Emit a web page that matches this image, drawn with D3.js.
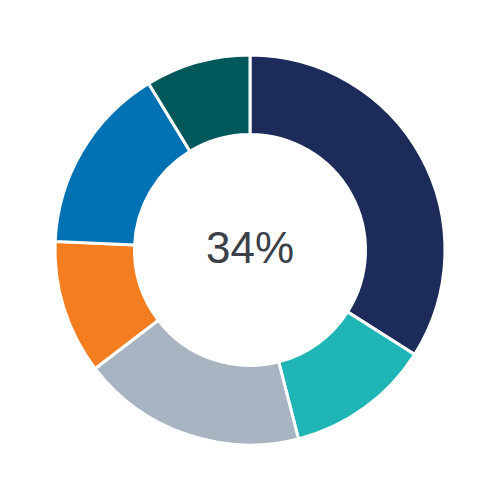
<!DOCTYPE html>
<html lang="en">
<head>
    <meta charset="UTF-8">
    <title>Donut</title>
    <script src="https://d3js.org/d3.v7.min.js"></script>
    <style>
        html, body { margin: 0; padding: 0; background: #fff; }
    </style>
</head>
<body>
    <div id="chart"></div>
    <script>
        // Data
        const categories = ["A", "B", "C", "D", "E", "F"];
        const values = [34, 12, 18.6, 11.1, 15.6, 8.7];
        const colors = ["#1d2b5a", "#1fb5b7", "#a9b4c3", "#f47d20", "#0072b3", "#00585a"];
        const centerLabel = "34%";

        const width = 500, height = 500;
        const outerR = 195, innerR = 115.5;

        const svg = d3.select("#chart")
            .append("svg")
            .attr("width", width)
            .attr("height", height)
            .append("g")
            .attr("transform", `translate(${width / 2}, ${height / 2})`);

        const pie = d3.pie().sort(null).value(d => d.value);
        const arc = d3.arc().innerRadius(innerR).outerRadius(outerR);

        const data = categories.map((c, i) => ({name: c, value: values[i]}));

        svg.selectAll("path")
            .data(pie(data))
            .join("path")
            .attr("d", arc)
            .attr("fill", (d, i) => colors[i])
            .attr("stroke", "#fff")
            .attr("stroke-width", 3);

        // Center label
        svg.append("text")
            .attr("x", 0)
            .attr("y", 13)
            .attr("text-anchor", "middle")
            .attr("font-family", "'Liberation Sans', Arial, sans-serif")
            .attr("font-size", 44)
            .attr("fill", "#3b4049")
            .text(centerLabel);
    </script>
</body>
</html>
